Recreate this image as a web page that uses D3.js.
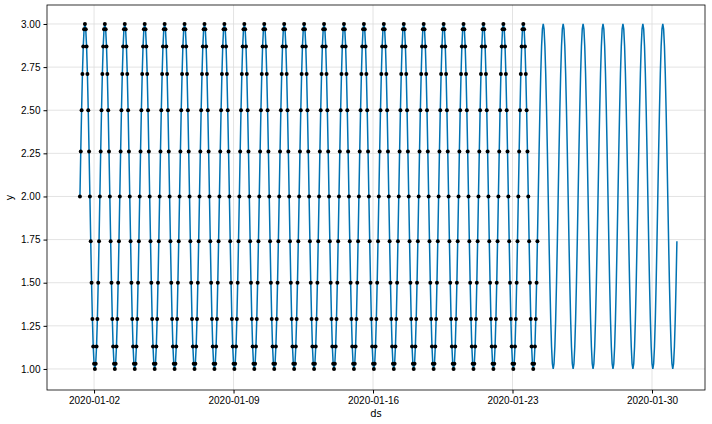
<!DOCTYPE html>
<html>
<head>
<meta charset="UTF-8">
<script src="https://d3js.org/d3.v7.min.js"></script>
<style>
body{margin:0;background:#fff;font-family:"DejaVu Sans",sans-serif;}
.tick text{font-size:10px;fill:#000;}
</style>
</head>
<body>
<svg id="chart" width="712" height="424"></svg>
<script>
// one daily cycle of hourly values, read from the points
const cycle = [2.00,2.26,2.50,2.71,2.87,2.97,3.00,2.97,2.87,2.71,2.50,2.26,
               2.00,1.74,1.50,1.29,1.13,1.03,1.00,1.03,1.13,1.29,1.50,1.74];
const startDate = new Date(2020,0,1,7);
const historyDays = 23;
const forecastDays = 30;
const tickDates = ["2020-01-02","2020-01-09","2020-01-16","2020-01-23","2020-01-30"];
const yTicks = [1.00,1.25,1.50,1.75,2.00,2.25,2.50,2.75,3.00];

const hour = 3600e3;
const history = d3.range(historyDays*24).map(i => ({ds:new Date(+startDate+i*hour), y:cycle[i%24]}));
const forecast = d3.range(forecastDays*24).map(i => ({ds:new Date(+startDate+i*hour), y:cycle[i%24]}));

const mLeft=47,mRight=705,mTop=5,mBottom=390;
const svg=d3.select("#chart");
const x=d3.scaleTime().domain([new Date(2019,11,30,15,20),new Date(2020,1,1,15,50)]).range([mLeft,mRight]);
const y=d3.scaleLinear().domain([0.878,3.11]).range([mBottom,mTop]);
const parse=d3.timeParse("%Y-%m-%d");

const grid=svg.append("g").attr("stroke","#dcdcdc").attr("stroke-width",0.8);
tickDates.forEach(t=>grid.append("line").attr("x1",x(parse(t))).attr("x2",x(parse(t))).attr("y1",mTop).attr("y2",mBottom));
yTicks.forEach(t=>grid.append("line").attr("x1",mLeft).attr("x2",mRight).attr("y1",y(t)).attr("y2",y(t)));

svg.append("path").datum(forecast)
  .attr("fill","none").attr("stroke","#0072B2").attr("stroke-width",1.5)
  .attr("d",d3.line().x(d=>x(d.ds)).y(d=>y(d.y)));

svg.append("g").selectAll("circle").data(history).join("circle")
  .attr("cx",d=>x(d.ds)).attr("cy",d=>y(d.y)).attr("r",2).attr("fill","#000");

svg.append("g").attr("transform",`translate(0,${mBottom})`)
  .call(d3.axisBottom(x).tickValues(tickDates.map(parse)).tickFormat(d3.timeFormat("%Y-%m-%d")).tickSize(3.5).tickPadding(3))
  .call(g=>g.select(".domain").remove());
svg.append("g").attr("transform",`translate(${mLeft},0)`)
  .call(d3.axisLeft(y).tickValues(yTicks).tickFormat(d3.format(".2f")).tickSize(3.5).tickPadding(3))
  .call(g=>g.select(".domain").remove());

svg.append("rect").attr("x",mLeft).attr("y",mTop).attr("width",mRight-mLeft).attr("height",mBottom-mTop)
  .attr("fill","none").attr("stroke","#000").attr("stroke-width",0.8);

svg.append("text").attr("x",(mLeft+mRight)/2).attr("y",417).attr("text-anchor","middle").attr("font-size",10).text("ds");
svg.append("text").attr("transform",`translate(13,${(mTop+mBottom)/2}) rotate(-90)`).attr("text-anchor","middle").attr("font-size",10).text("y");
</script>
</body>
</html>
